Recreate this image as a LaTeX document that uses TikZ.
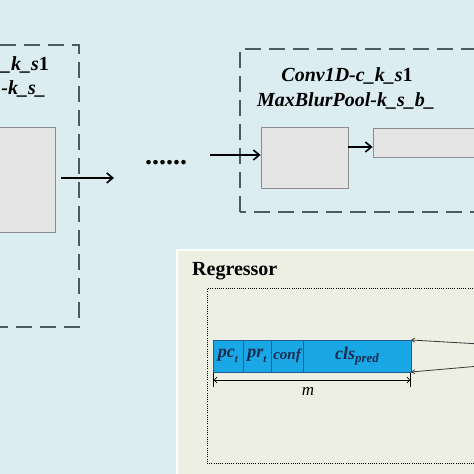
\documentclass[tikz,border=0pt]{standalone}
\usepackage{fontspec}
\setmainfont{Liberation Serif}
\usetikzlibrary{arrows.meta, positioning, calc}
\usepackage{xcolor}
\definecolor{BgBlue}{HTML}{DBEDF1}
\definecolor{PanelGreen}{HTML}{ECEFE1}
\definecolor{BoxGray}{HTML}{E5E5E5}
\definecolor{BoxEdge}{HTML}{8C8C8C}
\definecolor{DashGray}{HTML}{4B5B63}
\definecolor{CellBlue}{HTML}{1AA7E6}
\definecolor{CellLine}{HTML}{1D5E8E}
\definecolor{CellText}{HTML}{1B2B4E}
\definecolor{DarkLine}{HTML}{3A3A3A}
\newcommand{\subtxt}[1]{\raisebox{-0.25em}{\fontsize{11}{11}\selectfont #1}}

\begin{document}
\begin{tikzpicture}[x=1pt, y=1pt, >={Straight Barb[length=6pt,width=10pt]}]
    \tikzstyle{stage} = [draw=DashGray, line width=1.2pt, dash pattern=on 16pt off 8pt]
    \tikzstyle{blk} = [rectangle, draw=BoxEdge, fill=BoxGray, inner sep=0pt, line width=0.8pt]
    \tikzstyle{title} = [font=\fontsize{20}{23}\selectfont\bfseries\itshape, inner sep=0pt]
    \tikzstyle{cell} = [rectangle, draw=CellLine, fill=CellBlue, text=CellText, minimum height=32pt, inner sep=0pt, outer sep=0pt, line width=0.8pt, font=\fontsize{18}{18}\selectfont\bfseries\itshape]
    \tikzstyle{flow} = [->, line width=1.6pt]

    \clip (0,0) rectangle (474,474);
    \fill[BgBlue] (0,0) rectangle (474,474);

    % left stage (cut off)
    \draw[stage] (-30,147) rectangle (79,429);
    \node[title, anchor=base east] (ltop) at (49,403) {\_k\_s\textup{1}};
    \node[title, anchor=base east] (lbot) at (46,379) {-k\_s\_};
    \node[blk, minimum width=95pt, minimum height=105pt] (lconv) at (7.5,294.5) {};
    \coordinate (lend) at (114,296);
    \draw[flow, shorten <=6pt] (lconv.east |- lend) -- (lend);

    \node[font=\fontsize{28}{28}\selectfont\bfseries, inner sep=0pt] (dots) at (166,311) {......};

    % right stage
    \draw[stage] (240,262) rectangle (500,425);
    \node[title, anchor=base] (rline1) at (347,392) {Conv1D-c\_k\_s\textup{1}};
    \node[title, anchor=base] (rline2) at (346,367) {MaxBlurPool-k\_s\_b\_};
    \node[blk, minimum width=87pt, minimum height=61pt] (rconv) at (304.5,316.5) {};
    \node[blk, minimum width=127pt, minimum height=29pt] (rpool) at (436.5,331.5) {};
    \coordinate (rin) at (210,319);
    \draw[flow] (rin) -- (rin -| rconv.west);
    \draw[flow] ([yshift=-4.5pt]rpool.west -| rconv.east) -- ([yshift=-4.5pt]rpool.west);

    % regressor panel
    \draw[draw=white, line width=2pt, fill=PanelGreen] (177,-6) rectangle (480,224);
    \node[font=\fontsize{20}{20}\selectfont\bfseries, anchor=base west, inner sep=0pt] (regtitle) at (192,198) {Regressor};
    \draw[black, line width=1pt, dash pattern=on 1pt off 1.2pt] (207,10) rectangle (500,185);

    \node[cell, minimum width=30pt] (pc) at (228,118) {pc\subtxt{t}};
    \node[cell, minimum width=28pt, right=0pt of pc] (pr) {pr\subtxt{t}};
    \node[cell, minimum width=32pt, right=0pt of pr, font=\fontsize{15}{15}\selectfont\bfseries\itshape] (conf) {conf};
    \node[cell, minimum width=108pt, right=0pt of conf] (cls) {cls\raisebox{-0.2em}{\fontsize{13}{13}\selectfont pred}};

    \draw[line width=0.7pt, {Bar[width=14pt]Straight Barb[length=3pt,width=6pt]}-{Straight Barb[length=3pt,width=6pt]Bar[width=14pt]}]
        ($(pc.south west)+(0,-8)$) -- ($(cls.south east)+(0,-8)$);
    \node[font=\fontsize{17}{17}\selectfont\itshape, inner sep=0pt] (mlabel) at (308,83) {m};

    \coordinate (rt) at (480,130);
    \coordinate (rb) at (480,108);
    \draw[DarkLine, line width=0.8pt, {Straight Barb[length=3pt,width=4pt]}-] (cls.north east) -- (rt);
    \draw[DarkLine, line width=0.8pt, {Straight Barb[length=3pt,width=4pt]}-] (cls.south east) -- (rb);
\end{tikzpicture}
\end{document}
